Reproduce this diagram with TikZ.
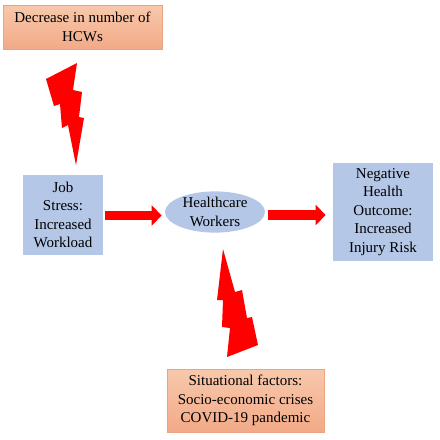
\documentclass[tikz,border=0pt]{standalone}
\usepackage{fontspec}
\setmainfont{Liberation Serif}
\usetikzlibrary{shapes.geometric,arrows.meta}

\definecolor{salmontop}{RGB}{248,200,172}
\definecolor{salmonbot}{RGB}{242,170,135}
\definecolor{salmonline}{RGB}{232,165,130}
\definecolor{paleblue}{RGB}{180,199,231}
\definecolor{boltred}{RGB}{255,0,0}

\tikzset{every picture/.style={line width=0.75pt}}
\tikzset{
  txt/.style={font=\fontsize{15}{18.5}\selectfont, align=center, inner sep=0pt},
  salmonbox/.style={txt, draw=salmonline, line width=0.6pt, top color=salmontop, bottom color=salmonbot},
  bluebox/.style={txt, fill=paleblue},
  bigarrow/.style={draw=boltred, line width=9.5pt, -{Triangle[width=20pt,length=10pt]}},
  bolt/.style={fill=boltred, draw=none}
}

\begin{document}
\begin{tikzpicture}[x=1pt,y=1pt,yscale=-1,xscale=1]
\useasboundingbox (0,0) rectangle (440,440);

\node (dec) at (82.5,27) [salmonbox, minimum width=159pt, minimum height=44pt] {Decrease in number of\\HCWs};
\node (job) at (63,215) [bluebox, minimum width=80pt, minimum height=80pt] {Job\\Stress:\\Increased\\Workload};
\node (hcw) at (215,212) [bluebox, ellipse, minimum width=100pt, minimum height=40pt] {Healthcare\\Workers};
\node (neg) at (383,212) [bluebox, minimum width=100pt, minimum height=98pt] {Negative\\Health\\Outcome:\\Increased\\Injury Risk};
\node (sit) at (245.5,400.5) [salmonbox, minimum width=157pt, minimum height=63pt] {Situational factors:\\Socio-economic crises\\COVID-19 pandemic};

% block arrows
\draw [bigarrow, shorten <=2pt, shorten >=3pt] ([yshift=3.5pt]job.east |- hcw.west) -- ([yshift=3.5pt]hcw.west) ;
\draw [bigarrow, shorten <=3pt, shorten >=7pt] ([yshift=3pt]hcw.east) -- ([yshift=3pt]neg.west) ;

% lightning bolts
\draw [bolt] (46,79) -- (77,63) -- (73,90) -- (82,92) -- (79,117) -- (84,118) -- (76,165) -- (68,125) -- (62,128) -- (60,104) -- (54,106) -- cycle ;
\draw [bolt] (223,249) -- (235,292) -- (242,290) -- (247,318) -- (252,317) -- (258,345) -- (227,357) -- (230,328) -- (222,327) -- (223,300) -- (217,300) -- cycle ;

\end{tikzpicture}
\end{document}
